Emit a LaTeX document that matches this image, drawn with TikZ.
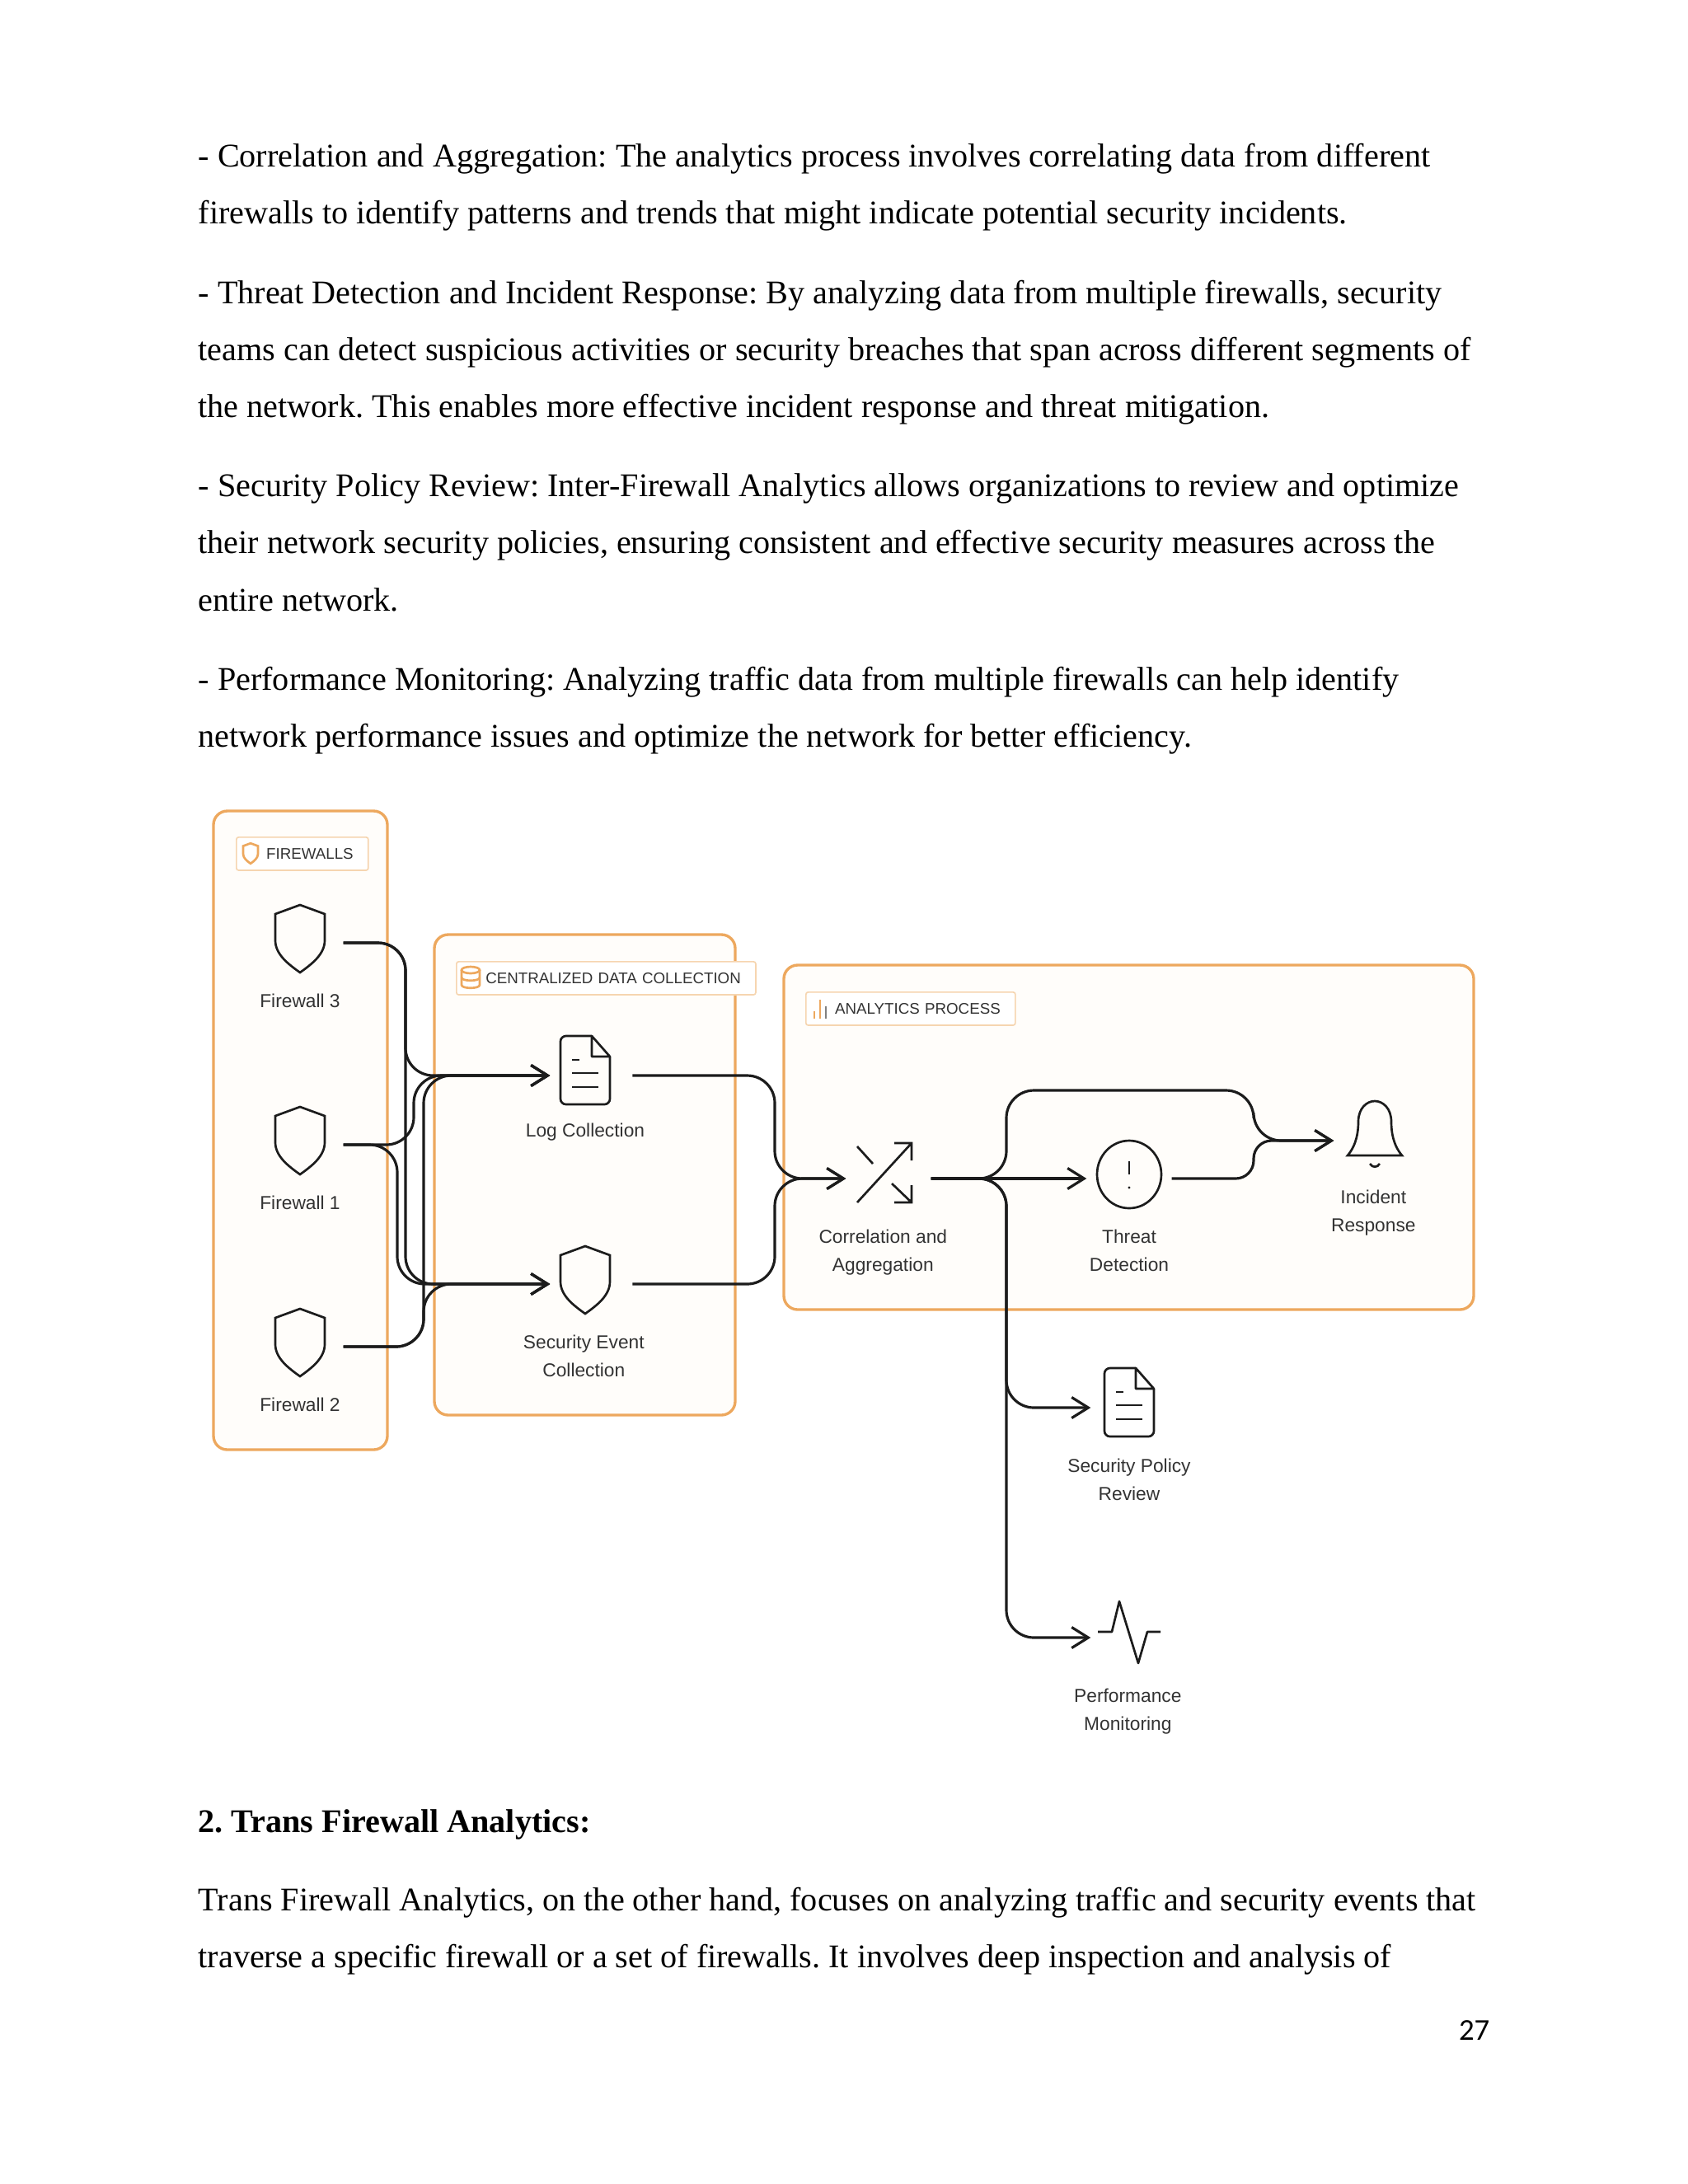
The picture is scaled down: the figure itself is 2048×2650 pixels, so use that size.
\documentclass[tikz,border=0pt]{standalone}
\usepackage{fontspec}
\setmainfont{Liberation Serif}
\newfontfamily\diagfont{Liberation Sans}
\newfontfamily\pagefont{Carlito}
\usepackage{xcolor}
\usetikzlibrary{positioning,arrows.meta}
\definecolor{groupline}{HTML}{EDA85E}
\definecolor{groupfill}{HTML}{FFFDFA}
\definecolor{tagline}{HTML}{F6D5B0}
\definecolor{inkgray}{HTML}{333333}
\definecolor{inkline}{HTML}{1C1C1C}
\tikzset{
  shieldglyph/.pic={\draw[glyph] (0,-46) -- (30,-35) -- (30,-3) .. controls (30,14) and (14,26) .. (0,36) .. controls (-14,26) and (-30,14) .. (-30,-3) -- (-30,-35) -- cycle;},
  docglyph/.pic={
    \draw[glyph,rounded corners=2pt] (8,-48) -- (-30,-48) -- (-30,35) -- (30,35) -- (30,-23);
    \draw[glyph,line join=round] (8,-48) -- (30,-23) -- (8,-23) -- cycle;
    \draw[glyph] (-16,-19) -- (-7,-19) (-16,-3) -- (16,-3) (-16,14) -- (16,14);
  },
  shuffleglyph/.pic={
    \draw[glyph] (-33,29) -- (33,-43) (12,-43) -- (33,-43) -- (33,-22);
    \draw[glyph] (-33,-39) -- (-14,-18) (9,6) -- (33,29) (12,29) -- (33,29) -- (33,8);
  },
  threatglyph/.pic={
    \draw[glyph] (0,-5) ellipse [x radius=39,y radius=41];
    \draw[glyph] (0,-21) -- (0,-5);
    \fill[inkline] (0,11) circle (1.6);
  },
  bellglyph/.pic={
    \draw[glyph] (-33,18) -- (33,18) .. controls (22,5) and (20,-11) .. (20,-23) .. controls (20,-39) and (10,-48) .. (0,-48) .. controls (-10,-48) and (-20,-39) .. (-20,-23) .. controls (-20,-11) and (-22,5) .. (-33,18) -- cycle;
    \draw[glyph] (-6,28) .. controls (-3,33) and (3,33) .. (6,28);
  },
  pulseglyph/.pic={\draw[glyph,line join=round] (-38,-7) -- (-21,-7) -- (-12,-44) -- (11,31) -- (22,-7) -- (38,-7);},
  dbglyph/.pic={
    \draw[glyph] (0,-9) ellipse [x radius=11,y radius=4];
    \draw[glyph] (-11,-9) -- (-11,9) .. controls (-11,14) and (11,14) .. (11,9) -- (11,-9);
    \draw[glyph] (-11,0) .. controls (-11,5) and (11,5) .. (11,0);
  },
  barsglyph/.pic={
    \draw[groupline,line width=.6pt] (-7,12) -- (-7,3);
    \draw[groupline,line width=.6pt] (0,12) -- (0,-11);
    \draw[gray,line width=.6pt] (7,12) -- (7,-3);
  }
}
\begin{document}
\frenchspacing
\begin{tikzpicture}[
    x=0.29883pt,y=-0.29883pt,
    glyph/.style={line width=0.8pt},
    groupbox/.style={draw=groupline,fill=groupfill,line width=1pt,rounded corners=5pt},
    tagbox/.style={draw=tagline,fill=white,line width=0.5pt,rounded corners=0.8pt,anchor=north west,inner xsep=5.4pt,inner ysep=0pt,minimum height=12pt,text width=#1,align=right,text=inkgray,font=\diagfont\fontsize{5.6}{7}\selectfont},
    spot/.style={minimum width=#1,minimum height=0pt,inner sep=0pt},
    capt/.style={inner sep=0pt,align=center,text=inkgray,font=\diagfont\fontsize{6.8}{10.2}\selectfont},
    flow/.style={draw=inkline,line width=0.95pt,rounded corners=10pt,shorten <=6.6pt,-{Straight Barb[length=6pt,width=7.5pt]},shorten >=3.6pt},
    body/.style={anchor=base west,inner sep=0pt,font=\fontsize{12}{14}\selectfont},
    node distance=18pt
  ]
    \useasboundingbox (0,0) rectangle (2048,2650);
    \fill[white] (0,0) rectangle (2048,2650);
    \foreach \i/\ypos/\txt in {
      1/202/{- Correlation and Aggregation: The analytics process involves correlating data from different},
      2/271/{firewalls to identify patterns and trends that might indicate potential security incidents.},
      3/368/{- Threat Detection and Incident Response: By analyzing data from multiple firewalls, security},
      4/437/{teams can detect suspicious activities or security breaches that span across different segments of},
      5/506/{the network. This enables more effective incident response and threat mitigation.},
      6/602/{- Security Policy Review: Inter-Firewall Analytics allows organizations to review and optimize},
      7/671/{their network security policies, ensuring consistent and effective security measures across the},
      8/741/{entire network.},
      9/837/{- Performance Monitoring: Analyzing traffic data from multiple firewalls can help identify},
      10/906/{network performance issues and optimize the network for better efficiency.},
      11/2223/{\textbf{2. Trans Firewall Analytics:}},
      12/2318/{Trans Firewall Analytics, on the other hand, focuses on analyzing traffic and security events that},
      13/2387/{traverse a specific firewall or a set of firewalls. It involves deep inspection and analysis of}}
      \node[body] (line\i) at (240,\ypos) {\txt};
    \node[anchor=base east,inner sep=0pt,font=\pagefont\fontsize{11}{14}\selectfont] (pagenum) at (1808,2475) {27};

    \draw[groupbox] (259,984) rectangle (470,1759);
    \draw[groupbox] (527,1134) rectangle (892,1717);
    \draw[groupbox] (951,1171) rectangle (1788,1589);

    \node[tagbox=37pt] (fwtag) at (286,1015) {FIREWALLS};
    \node[tagbox=97.7pt] (dctag) at (553,1166) {CENTRALIZED DATA COLLECTION};
    \node[tagbox=65.1pt] (antag) at (977,1203) {ANALYTICS PROCESS};
    \pic[color=groupline,scale=.3] at (304,1037) {shieldglyph};
    \pic[color=groupline] at (571,1186) {dbglyph};
    \pic at (995,1224) {barsglyph};

    \node[spot=17.9pt] (fw3) at (364,1144) {};
    \node[spot=17.9pt] (fw1) at (364,1389) {};
    \node[spot=17.9pt] (fw2) at (364,1634) {};
    \node[spot=17.9pt] (logc) at (710,1305) {};
    \node[spot=17.9pt] (secc) at (710,1558) {};
    \node[spot=20.3pt] (corr) at (1073,1430) {};
    \node[spot=23.3pt] (threat) at (1370,1430) {};
    \node[spot=22.1pt] (bell) at (1668,1384) {};
    \node[spot=20.3pt] (policy) at (1370,1708) {};
    \node[spot=20.3pt] (perf) at (1370,1987) {};

    \pic[color=inkline] at (fw3) {shieldglyph};
    \pic[color=inkline] at (fw1) {shieldglyph};
    \pic[color=inkline] at (fw2) {shieldglyph};
    \pic[color=inkline] at (logc) {docglyph};
    \pic[color=inkline] at (secc) {shieldglyph};
    \pic[color=inkline] at (corr) {shuffleglyph};
    \pic[color=inkline] at (threat) {threatglyph};
    \pic[color=inkline] at (bell) {bellglyph};
    \pic[color=inkline] at (policy) {docglyph};
    \pic[color=inkline] at (perf) {pulseglyph};

    \node[capt,below=of fw3] (fw3txt) {Firewall 3};
    \node[capt,below=of fw1] (fw1txt) {Firewall 1};
    \node[capt,below=of fw2] (fw2txt) {Firewall 2};
    \node[capt,below=17pt of logc] (logtxt) {Log Collection};
    \node[capt,below=of secc,xshift=-0.5pt] (sectxt) {Security Event\\Collection};
    \node[capt,below=of corr,xshift=-0.5pt] (corrtxt) {Correlation and\\Aggregation};
    \node[capt,below=of threat] (threattxt) {Threat\\Detection};
    \node[capt,below=17.5pt of bell,xshift=-0.5pt] (belltxt) {Incident\\Response};
    \node[capt,below=of policy] (policytxt) {Security Policy\\Review};
    \node[capt,below=of perf,xshift=-0.5pt] (perftxt) {Performance\\Monitoring};

    \coordinate (busa) at (482,0);
    \coordinate (busb) at (492,0);
    \coordinate (busc) at (502,0);
    \coordinate (busd) at (514,0);
    \coordinate (buse) at (940,0);
    \coordinate (busf) at (1221,1323);
    \coordinate (busg) at (1521,1323);

    \draw[flow] (fw3.east) -| (busb |- logc.west) -- (logc.west);
    \draw[flow] (fw3.east) -| (busb |- secc.west) -- (secc.west);
    \draw[flow] (fw1.east) -| (busc |- logc.west) -- (logc.west);
    \draw[flow] (fw1.east) -| (busa |- secc.west) -- (secc.west);
    \draw[flow] (fw2.east) -| (busd |- logc.west) -- (logc.west);
    \draw[flow] (fw2.east) -| (busd |- secc.west) -- (secc.west);
    \draw[flow,shorten <=8pt] (logc.east) -| (buse |- corr.west) -- (corr.west);
    \draw[flow,shorten <=8pt] (secc.east) -| (buse |- corr.west) -- (corr.west);
    \draw[flow] (corr.east) -- (threat.west);
    \draw[flow] (corr.east) -| (busf) -| (busg |- bell.west) -- (bell.west);
    \draw[flow] (corr.east) -| (busf |- policy.west) -- (policy.west);
    \draw[flow] (corr.east) -| (busf |- perf.west) -- (perf.west);
    \draw[flow,rounded corners=6.5pt,shorten <=3.6pt] (threat.east) -| (busg |- bell.west) -- (bell.west);
  \end{tikzpicture}
\end{document}
